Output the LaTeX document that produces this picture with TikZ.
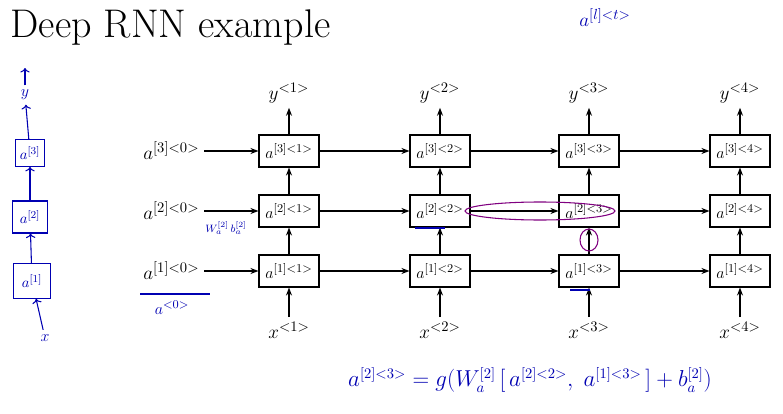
\documentclass[tikz,border=0pt]{standalone}
\usetikzlibrary{arrows.meta}
\begin{document}
\begin{tikzpicture}[x=0.75pt,y=-0.75pt,
  cell/.style={draw,thick,minimum width=45pt,minimum height=24pt,inner sep=0pt,font=\fontsize{13}{14}\selectfont},
  lab/.style={font=\fontsize{15}{17}\selectfont},
  arr/.style={-{Stealth[length=6pt]},thick},
  hw/.style={blue!70!black,font=\fontsize{13}{15}\selectfont},
  hwl/.style={blue!70!black,thick}]
\useasboundingbox (0,0) rectangle (783,414);
\node[anchor=west,font=\fontsize{30}{34}\selectfont] (title) at (6,28) {Deep RNN example};
\foreach \i/\x in {1/289,2/440,3/589,4/740}{
  \node[cell] (c3\i) at (\x,151) {$a^{[3]<\i>}$};
  \node[cell] (c2\i) at (\x,211) {$a^{[2]<\i>}$};
  \node[cell] (c1\i) at (\x,271) {$a^{[1]<\i>}$};
  \node[lab] (y\i) at (\x,93) {$y^{<\i>}$};
  \node[lab] (x\i) at (\x,330) {$x^{<\i>}$};
  \draw[arr] (x\i) -- (c1\i);
  \draw[arr] (c1\i) -- (c2\i);
  \draw[arr] (c2\i) -- (c3\i);
  \draw[arr] (c3\i) -- (y\i);
}
\foreach \r in {1,2,3}{
  \node[lab,anchor=east] (z\r) at (204,{331-60*\r}) {$a^{[\r]<0>}$};
  \draw[arr] (z\r) -- (c\r1);
  \draw[arr] (c\r1) -- (c\r2);
  \draw[arr] (c\r2) -- (c\r3);
  \draw[arr] (c\r3) -- (c\r4);
}
% handwritten annotations
\node[hw,font=\fontsize{15}{17}\selectfont] (alt) at (605,18) {$a^{[l]<t>}$};
\draw[violet,thick] (540,211) ellipse (75 and 9);
\draw[violet,thick] (589,240) ellipse (9 and 11);
\draw[hwl] (415,228) -- (445,228);
\draw[hwl] (570,290) -- (590,290);
\node[hw,font=\fontsize{8}{9}\selectfont] (wb) at (226,228) {$W_a^{[2]}\,b_a^{[2]}$};
\draw[hwl] (140,294) -- (210,294);
\node[hw] (a0) at (172,308) {$a^{<0>}$};
\node[hw,font=\fontsize{16}{18}\selectfont] (eq) at (530,380) {$a^{[2]<3>} = g\big(W_a^{[2]}\,[\,a^{[2]<2>},\; a^{[1]<3>}\,] + b_a^{[2]}\big)$};
% left stack
\node[hw] (ly) at (25,95) {$y$};
\node[hwl,draw,minimum width=22pt,minimum height=20pt,inner sep=0pt,font=\fontsize{11}{12}\selectfont] (l3) at (30,153) {$a^{[3]}$};
\node[hwl,draw,minimum width=26pt,minimum height=24pt,inner sep=0pt,font=\fontsize{11}{12}\selectfont] (l2) at (30,217) {$a^{[2]}$};
\node[hwl,draw,minimum width=28pt,minimum height=26pt,inner sep=0pt,font=\fontsize{11}{12}\selectfont] (l1) at (32,281) {$a^{[1]}$};
\node[hw] (lx) at (45,338) {$x$};
\draw[hwl,->] (lx) -- (l1);
\draw[hwl,->] (l1) -- (l2);
\draw[hwl,->] (l2) -- (l3);
\draw[hwl,->] (l3) -- (ly);
\draw[hwl,->] (ly) -- (25,68);
\end{tikzpicture}
\end{document}
